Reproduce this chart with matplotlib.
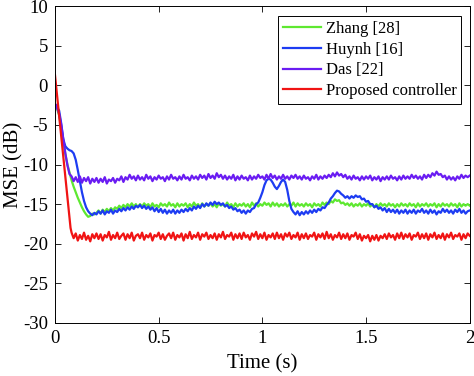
"""MSE convergence of four controllers (MATLAB-style line chart)."""
import numpy as np
import matplotlib
matplotlib.use("Agg")
import matplotlib.pyplot as plt

plt.rcParams["font.family"] = ["Liberation Serif", "DejaVu Serif"]
plt.rcParams["axes.unicode_minus"] = False

# common time grid of the steady part, 0.20 s .. 2.00 s every 10 ms
T_STEADY = np.round(np.arange(0.20, 2.0001, 0.01), 2)

# ---- Zhang [28] ----
ZHANG_T0 = [0.005, 0.02, 0.03, 0.04, 0.05, 0.06, 0.07, 0.08, 0.09, 0.10,
            0.11, 0.12, 0.13, 0.14, 0.15, 0.16, 0.17, 0.18, 0.19]
ZHANG_Y0 = [-2.5, -3.8, -5.3, -7.0, -8.7, -10.0, -11.0, -12.0, -12.8, -13.5,
            -14.2, -14.8, -15.4, -15.9, -16.3, -16.6, -16.5, -16.2, -16.3]
ZHANG_Y = [
    -16.1, -15.8, -16.2, -15.7, -16.0, -15.6, -15.9, -15.5, -15.8, -15.4,
    -15.6, -15.2, -15.5, -15.1, -15.4, -15.0, -15.3, -14.9, -15.3, -15.0,
    -15.4, -15.0, -15.3, -14.9, -15.2, -15.0, -15.4, -14.9, -15.3, -15.1,
    -15.4, -14.9, -15.2, -15.0, -15.3, -14.8, -15.2, -15.0, -15.4, -14.9,
    -15.3, -15.0, -15.2, -14.9, -15.4, -15.0, -15.3, -14.8, -15.2, -15.0,
    -15.4, -14.9, -15.3, -15.0, -15.2, -14.9, -15.3, -15.0, -15.4, -14.9,
    -15.2, -15.0, -15.3, -14.8, -15.2, -15.0, -15.4, -14.9, -15.3, -15.0,
    -15.2, -14.9, -15.3, -15.0, -15.4, -14.8, -15.2, -14.9, -15.3, -15.0,
    -15.2, -14.8, -15.1, -14.9, -15.3, -14.8, -15.2, -14.9, -15.3, -15.0,
    -15.2, -14.9, -15.3, -15.0, -15.2, -14.8, -15.3, -14.9, -15.2, -15.0,
    -15.3, -14.9, -15.2, -15.0, -15.4, -14.9, -15.2, -15.0, -15.3, -14.8,
    -15.1, -14.8, -15.0, -14.6, -14.8, -14.4, -14.6, -14.5, -14.9, -14.8,
    -15.1, -14.9, -15.2, -14.9, -15.3, -15.0, -15.2, -14.9, -15.3, -15.0,
    -15.2, -14.9, -15.3, -15.0, -15.4, -15.0, -15.3, -14.9, -15.2, -15.0,
    -15.3, -14.9, -15.2, -15.0, -15.4, -15.0, -15.3, -14.9, -15.2, -15.0,
    -15.3, -14.9, -15.2, -15.0, -15.4, -14.9, -15.3, -15.0, -15.2, -14.9,
    -15.3, -15.0, -15.2, -14.9, -15.4, -15.0, -15.3, -14.9, -15.2, -15.0,
    -15.3, -14.9, -15.2, -15.0, -15.4, -14.9, -15.3, -15.0, -15.2, -15.0,
    -15.2]

# ---- Huynh [16] ----
HUYNH_T0 = [0.005, 0.01, 0.02, 0.03, 0.04, 0.05, 0.06, 0.07, 0.08, 0.09,
            0.10, 0.11, 0.12, 0.13, 0.14, 0.15, 0.16, 0.17, 0.18, 0.19]
HUYNH_Y0 = [-2.6, -2.8, -3.2, -4.8, -6.8, -7.7, -8.0, -8.2, -8.3, -8.6,
            -9.4, -10.7, -12.1, -13.5, -14.6, -15.4, -15.9, -16.2, -16.4, -16.1]
HUYNH_Y = [
    -16.3, -15.9, -16.2, -15.8, -16.3, -15.9, -16.1, -15.7, -16.2, -15.8,
    -16.0, -15.6, -15.9, -15.5, -15.8, -15.4, -15.7, -15.3, -15.6, -15.2,
    -15.4, -15.1, -15.5, -15.2, -15.6, -15.3, -15.7, -15.4, -15.9, -15.5,
    -16.0, -15.6, -16.1, -15.7, -16.2, -15.8, -16.1, -15.7, -16.2, -15.8,
    -16.1, -15.7, -16.0, -15.6, -15.9, -15.5, -15.8, -15.3, -15.6, -15.2,
    -15.5, -15.0, -15.3, -14.9, -15.2, -14.8, -15.1, -14.7, -15.0, -14.8,
    -15.1, -14.9, -15.3, -15.1, -15.5, -15.3, -15.7, -15.5, -15.9, -15.7,
    -16.1, -15.8, -16.2, -15.8, -16.0, -15.6, -15.5, -15.0, -14.8, -14.2,
    -13.5, -12.6, -12.0, -11.8, -11.9, -12.3, -12.8, -13.1, -12.7, -12.2,
    -11.9, -12.2, -13.2, -14.6, -15.6, -16.0, -16.3, -15.9, -16.4, -16.0,
    -16.3, -15.9, -16.2, -15.8, -16.1, -15.7, -16.0, -15.6, -15.8, -15.4,
    -15.5, -15.1, -14.8, -14.3, -14.0, -13.6, -13.3, -13.4, -13.7, -13.9,
    -14.2, -14.0, -14.3, -14.0, -14.2, -13.9, -14.1, -14.0, -14.4, -14.3,
    -14.7, -14.6, -15.0, -15.0, -15.4, -15.2, -15.6, -15.4, -15.8, -15.5,
    -16.0, -15.6, -16.0, -15.7, -16.1, -15.7, -16.2, -15.8, -16.1, -15.7,
    -16.2, -15.8, -16.1, -15.7, -16.2, -15.8, -16.0, -15.6, -16.1, -15.8,
    -16.2, -15.7, -16.1, -15.8, -16.3, -15.9, -16.1, -15.6, -16.0, -15.7,
    -16.1, -15.8, -16.2, -15.7, -16.0, -15.6, -16.1, -15.8, -16.2, -15.9,
    -15.8]

# ---- Das [22] ----
DAS_T0 = [0.005, 0.02, 0.03, 0.04, 0.05, 0.06, 0.07, 0.08, 0.09, 0.10,
          0.11, 0.12, 0.13, 0.14, 0.15, 0.16, 0.17, 0.18, 0.19]
DAS_Y0 = [-2.5, -3.6, -5.0, -6.8, -8.6, -10.1, -11.2, -11.5, -12.1, -11.6,
          -12.2, -11.5, -12.3, -11.7, -12.1, -11.6, -12.4, -11.8, -12.2]
DAS_Y = [
    -11.7, -12.3, -11.8, -12.2, -11.6, -12.4, -11.9, -12.1, -11.7, -12.3,
    -11.8, -12.0, -11.5, -12.2, -11.6, -11.9, -11.3, -11.8, -11.5, -12.0,
    -11.4, -11.9, -11.6, -12.0, -11.3, -11.8, -11.5, -12.1, -11.6, -11.9,
    -11.4, -11.8, -11.6, -12.1, -11.5, -11.9, -11.3, -11.8, -11.6, -12.0,
    -11.5, -11.9, -11.3, -11.8, -11.6, -12.0, -11.4, -11.8, -11.5, -11.9,
    -11.3, -11.7, -11.4, -11.9, -11.2, -11.7, -11.4, -11.8, -11.1, -11.6,
    -11.3, -11.8, -11.4, -11.9, -11.5, -11.8, -11.3, -12.0, -11.5, -11.9,
    -11.4, -11.8, -11.6, -12.0, -11.4, -11.9, -11.5, -11.8, -11.3, -11.7,
    -11.5, -11.9, -11.3, -11.8, -11.2, -11.7, -11.4, -11.9, -11.5, -11.8,
    -11.3, -11.8, -11.5, -11.9, -11.4, -11.7, -11.3, -11.8, -11.5, -11.9,
    -11.4, -11.8, -11.6, -12.0, -11.5, -11.8, -11.3, -11.9, -11.5, -11.8,
    -11.4, -11.7, -11.3, -11.6, -11.1, -11.5, -11.0, -11.4, -11.2, -11.6,
    -11.3, -11.8, -11.5, -11.9, -11.4, -11.8, -11.6, -12.0, -11.5, -11.9,
    -11.5, -11.8, -11.4, -12.0, -11.6, -11.9, -11.5, -12.1, -11.6, -11.9,
    -11.5, -11.9, -11.4, -11.8, -11.6, -12.0, -11.5, -11.9, -11.4, -11.8,
    -11.5, -11.8, -11.3, -11.7, -11.4, -11.8, -11.5, -11.9, -11.3, -11.7,
    -11.3, -11.6, -11.1, -11.4, -10.9, -11.3, -11.2, -11.6, -11.4, -11.9,
    -11.5, -11.9, -11.6, -12.0, -11.5, -11.8, -11.3, -11.7, -11.4, -11.6,
    -11.4]

# ---- Proposed controller ----
PROP_T0 = [0.0, 0.075, 0.08, 0.09, 0.10, 0.11, 0.12, 0.13, 0.14, 0.15,
           0.16, 0.17, 0.18, 0.19]
PROP_Y0 = [1.3, -18.0, -18.6, -19.3, -18.7, -19.6, -18.9, -19.4, -18.6, -19.5,
           -19.0, -19.7, -18.8, -19.3]
PROP_Y = [
    -18.7, -19.4, -18.8, -19.6, -18.9, -19.2, -18.5, -19.5, -18.9, -19.3,
    -18.6, -19.4, -19.0, -18.7, -19.5, -18.8, -19.3, -18.6, -19.6, -19.0,
    -18.8, -19.3, -18.6, -19.5, -18.9, -19.2, -18.7, -19.6, -18.9, -19.1,
    -18.6, -19.4, -18.8, -19.5, -19.0, -18.7, -19.3, -18.6, -19.5, -18.9,
    -19.2, -18.7, -19.6, -18.8, -19.3, -18.5, -19.4, -18.9, -19.2, -18.6,
    -19.5, -18.8, -19.1, -18.6, -19.4, -18.9, -19.3, -18.7, -19.5, -18.8,
    -19.2, -18.5, -19.4, -18.9, -19.1, -18.6, -19.5, -18.8, -19.3, -18.7,
    -19.4, -18.6, -19.2, -18.9, -19.5, -18.7, -19.1, -18.5, -19.4, -18.8,
    -19.3, -18.6, -19.5, -18.9, -19.2, -18.7, -19.4, -18.6, -19.3, -18.8,
    -19.5, -18.7, -19.1, -18.6, -19.4, -18.9, -19.2, -18.6, -19.5, -18.8,
    -19.3, -18.7, -19.4, -18.9, -19.1, -18.6, -19.5, -18.8, -19.2, -18.7,
    -19.4, -18.5, -19.3, -18.8, -19.5, -18.9, -19.2, -18.6, -19.4, -18.8,
    -19.3, -18.7, -19.5, -18.9, -19.1, -18.6, -19.4, -18.8, -19.6, -19.0,
    -19.3, -18.9, -19.7, -19.0, -19.5, -18.9, -19.6, -19.0, -19.3, -18.8,
    -19.4, -18.7, -19.2, -18.9, -19.5, -18.7, -19.3, -18.6, -19.4, -18.8,
    -19.2, -18.7, -19.5, -18.9, -19.1, -18.6, -19.4, -18.8, -19.3, -18.7,
    -19.5, -18.8, -19.2, -18.6, -19.4, -18.9, -19.3, -18.7, -19.5, -18.8,
    -19.2, -18.6, -19.4, -18.9, -19.1, -18.7, -19.5, -18.8, -19.3, -18.7,
    -19.0]

SERIES = [  # (label, head t, head y, steady y, colour)
    ("Zhang [28]",          ZHANG_T0, ZHANG_Y0, ZHANG_Y, "#5ee830"),
    ("Huynh [16]",          HUYNH_T0, HUYNH_Y0, HUYNH_Y, "#1d3cf2"),
    ("Das [22]",            DAS_T0,   DAS_Y0,   DAS_Y,   "#6a1cf2"),
    ("Proposed controller", PROP_T0,  PROP_Y0,  PROP_Y,  "#f01414"),
]


def main():
    fig = plt.figure(figsize=(4.74, 3.76), dpi=100)
    ax = fig.add_axes([0.116, 0.141, 0.875, 0.843])

    for lab, t0, y0, ys, col in SERIES:
        t = np.concatenate([t0, T_STEADY])
        y = np.concatenate([y0, ys])
        ax.plot(t, y, color=col, lw=1.6, label=lab)

    ax.set_xlim(0, 2)
    ax.set_ylim(-30, 10)
    ax.set_xticks([0, 0.5, 1, 1.5, 2])
    ax.set_xticklabels(["0", "0.5", "1", "1.5", "2"])
    ax.set_yticks(np.arange(-30, 11, 5))
    ax.tick_params(direction="in", top=True, right=True, length=4, width=0.6,
                   labelsize=13.5, pad=5)
    for s in ax.spines.values():
        s.set_linewidth(0.7)
    ax.set_xlabel("Time (s)", fontsize=15)
    ax.set_ylabel("MSE (dB)", fontsize=15)
    ax.xaxis.set_label_coords(0.5, -0.098)
    ax.yaxis.set_label_coords(-0.077, 0.5)

    leg = ax.legend(loc="upper right", bbox_to_anchor=(0.98, 0.968), fontsize=12,
                    frameon=True, fancybox=False, framealpha=1, edgecolor="black",
                    handlelength=2.3, handletextpad=0.25, labelspacing=0.28,
                    borderpad=0.3, borderaxespad=0)
    leg.get_frame().set_linewidth(0.7)

    fig.savefig("out.png", dpi=100)
    plt.close(fig)


if __name__ == "__main__":
    main()
